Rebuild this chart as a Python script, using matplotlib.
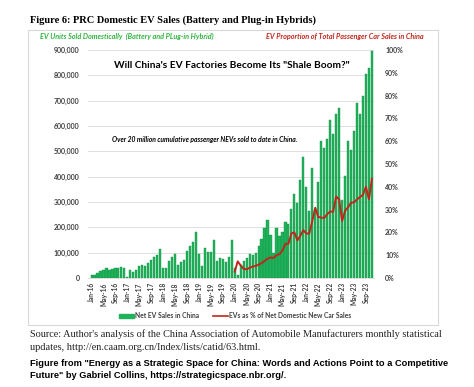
import matplotlib
matplotlib.use("Agg")
import matplotlib.pyplot as plt
import matplotlib.ticker as mticker
from matplotlib.patches import Rectangle
from matplotlib.lines import Line2D
import pandas as pd

# ---------------- data ----------------
months = [d.strftime("%b-%y") for d in pd.date_range("2016-01-01", "2023-11-01", freq="MS")]

ev_sales = [
    # 2016
    12000, 12000, 18000, 26000, 32000, 38000, 33000, 34000, 39000, 39000, 45000, 40000,
    # 2017
    5000, 31000, 25000, 33000, 47000, 50000, 46000, 58000, 72000, 82000, 92000, 114000,
    # 2018
    39000, 39000, 68000, 82000, 93000, 53000, 65000, 72000, 105000, 126000, 142000, 183000,
    # 2019
    96000, 48000, 118000, 101000, 103000, 149000, 67000, 78000, 74000, 64000, 81000, 151000,
    # 2020
    40000, 12000, 50000, 68000, 78000, 95000, 92000, 100000, 128000, 152000, 198000, 228000,
    # 2021
    170000, 97000, 198000, 164000, 181000, 220000, 214000, 273000, 332000, 297000, 388000, 478000,
    # 2022
    359000, 266000, 435000, 269000, 379000, 541000, 513000, 550000, 625000, 570000, 649000, 671000,
    # 2023
    309000, 401000, 541000, 507000, 580000, 689000, 646000, 718000, 805000, 827000, 897000,
]

share_start = "Jan-20"
ev_share = [
    # 2020
    2.8, 7.3, 5.5, 4.0, 3.8, 4.5, 5.0, 5.3, 5.8, 6.5, 7.5, 8.5,
    # 2021
    9.0, 8.8, 10.0, 10.5, 12.0, 15.0, 15.0, 19.5, 20.0, 16.5, 18.5, 21.0,
    # 2022
    19.5, 19.5, 25.0, 30.8, 26.8, 26.5, 26.3, 28.0, 29.2, 29.0, 35.7, 34.5,
    # 2023
    25.0, 29.5, 31.0, 33.0, 33.2, 34.5, 35.5, 36.5, 40.0, 34.5, 43.5,
]

left_ticks = [0, 100000, 200000, 300000, 400000, 500000, 600000, 700000, 800000, 900000]
right_ticks = [0, 10, 20, 30, 40, 50, 60, 70, 80, 90, 100]

# ---------------- figure ----------------
W, H = 474, 387
fig = plt.figure(figsize=(W / 100, H / 100), dpi=100)
fig.patch.set_facecolor("white")

def fx(px):
    return px / W

def fy(py):
    return 1 - py / H

# chart box
fig.patches.append(Rectangle((fx(28), fy(325)), fx(438) - fx(28), fy(30) - fy(325),
                             transform=fig.transFigure, fill=False,
                             edgecolor="#d9d9d9", linewidth=0.8))

ax = fig.add_axes([fx(88), fy(278), fx(374) - fx(88), fy(50) - fy(278)])
x = list(range(len(months)))
green = "#1fb25a"
red = "#c0261c"
ax.bar(x, ev_sales, width=0.72, color=green, edgecolor="#17944a", linewidth=0.3, zorder=2)
ax.set_ylim(0, 900000)
ax.set_xlim(-1.2, len(months) - 0.3)
ax.set_yticks(left_ticks)
ax.yaxis.set_major_formatter(mticker.FuncFormatter(lambda v, p: f"{int(v):,}"))
ax.grid(axis="y", color="#d9d9d9", linewidth=0.6, zorder=0)
ax.set_axisbelow(True)
for s in ["top", "left", "right"]:
    ax.spines[s].set_visible(False)
ax.spines["bottom"].set_color("#d9d9d9")
ax.spines["bottom"].set_linewidth(0.6)
ax.tick_params(axis="y", length=0, pad=6, labelsize=5, labelcolor="#404040")
ax.tick_params(axis="x", length=0, pad=3, labelsize=4.8, labelcolor="#404040")
ax.set_xticks(x[::4])
ax.set_xticklabels(months[::4], rotation=90)
for lab in ax.get_xticklabels() + ax.get_yticklabels():
    lab.set_fontweight("bold")
    lab.set_family("Lato")

ax2 = ax.twinx()
s0 = months.index(share_start)
ax2.plot(x[s0:s0 + len(ev_share)], ev_share, color=red, linewidth=1.4, zorder=3)
ax2.set_ylim(0, 100)
ax2.set_yticks(right_ticks)
ax2.yaxis.set_major_formatter(mticker.FuncFormatter(lambda v, p: f"{int(v)}%"))
for s in ["top", "left", "right", "bottom"]:
    ax2.spines[s].set_visible(False)
ax2.tick_params(axis="y", length=0, pad=8, labelsize=5, labelcolor="#404040")
for lab in ax2.get_yticklabels():
    lab.set_fontweight("bold")
    lab.set_family("Lato")

# titles and annotations
fig.text(fx(30), fy(20), "Figure 6: PRC Domestic EV Sales (Battery and Plug-in Hybrids)",
         family="Liberation Serif", fontweight="bold", fontsize=7.45, va="center", ha="left")
fig.text(fx(40), fy(36), "EV Units Sold Domestically  (Battery and PLug-in Hybrid)",
         family="Lato", fontweight="bold", style="italic", fontsize=5.25, color="#2fb33f",
         va="center", ha="left")
fig.text(fx(424), fy(36), "EV Proportion of Total Passenger Car Sales in China",
         family="Lato", fontweight="bold", style="italic", fontsize=5.25, color="#c0261c",
         va="center", ha="right")
fig.text(fx(232), fy(66), "Will China's EV Factories Become Its \"Shale Boom?\"",
         family="Lato", fontweight="bold", fontsize=7.3, va="center", ha="center")
fig.text(fx(112), fy(139), "Over 20 million cumulative passenger NEVs sold to date in China.",
         family="Lato", fontweight="bold", style="italic", fontsize=4.9, va="center", ha="left")

# legend
handles = [Rectangle((0, 0), 1, 1, facecolor=green, edgecolor=green),
           Line2D([0], [0], color=red, linewidth=1.2)]
leg = fig.legend(handles, ["Net EV Sales in China", "EVs as % of Net Domestic New Car Sales"],
                 loc="center", bbox_to_anchor=(fx(235), fy(316)), ncol=2, frameon=False,
                 prop={"family": "Lato", "weight": "bold", "size": 4.9},
                 handlelength=2.2, handleheight=0.5, columnspacing=2.0, handletextpad=0.15)
for t in leg.get_texts():
    t.set_color("#404040")

# source & credit
fig.text(fx(30), fy(334), "Source: Author's analysis of the China Association of Automobile Manufacturers monthly statistical",
         family="Liberation Serif", fontsize=7.4, color="#222222", va="center", ha="left")
fig.text(fx(30), fy(347), "updates, http://en.caam.org.cn/Index/lists/catid/63.html.",
         family="Liberation Serif", fontsize=7.4, color="#222222", va="center", ha="left")
fig.text(fx(30), fy(363), "Figure from \"Energy as a Strategic Space for China: Words and Actions Point to a Competitive",
         family="Liberation Sans", fontweight="bold", fontsize=6.65, va="center", ha="left")
fig.text(fx(30), fy(376), "Future\" by Gabriel Collins, https://strategicspace.nbr.org/.",
         family="Liberation Sans", fontweight="bold", fontsize=6.65, va="center", ha="left")

fig.savefig("out.png", dpi=100)
